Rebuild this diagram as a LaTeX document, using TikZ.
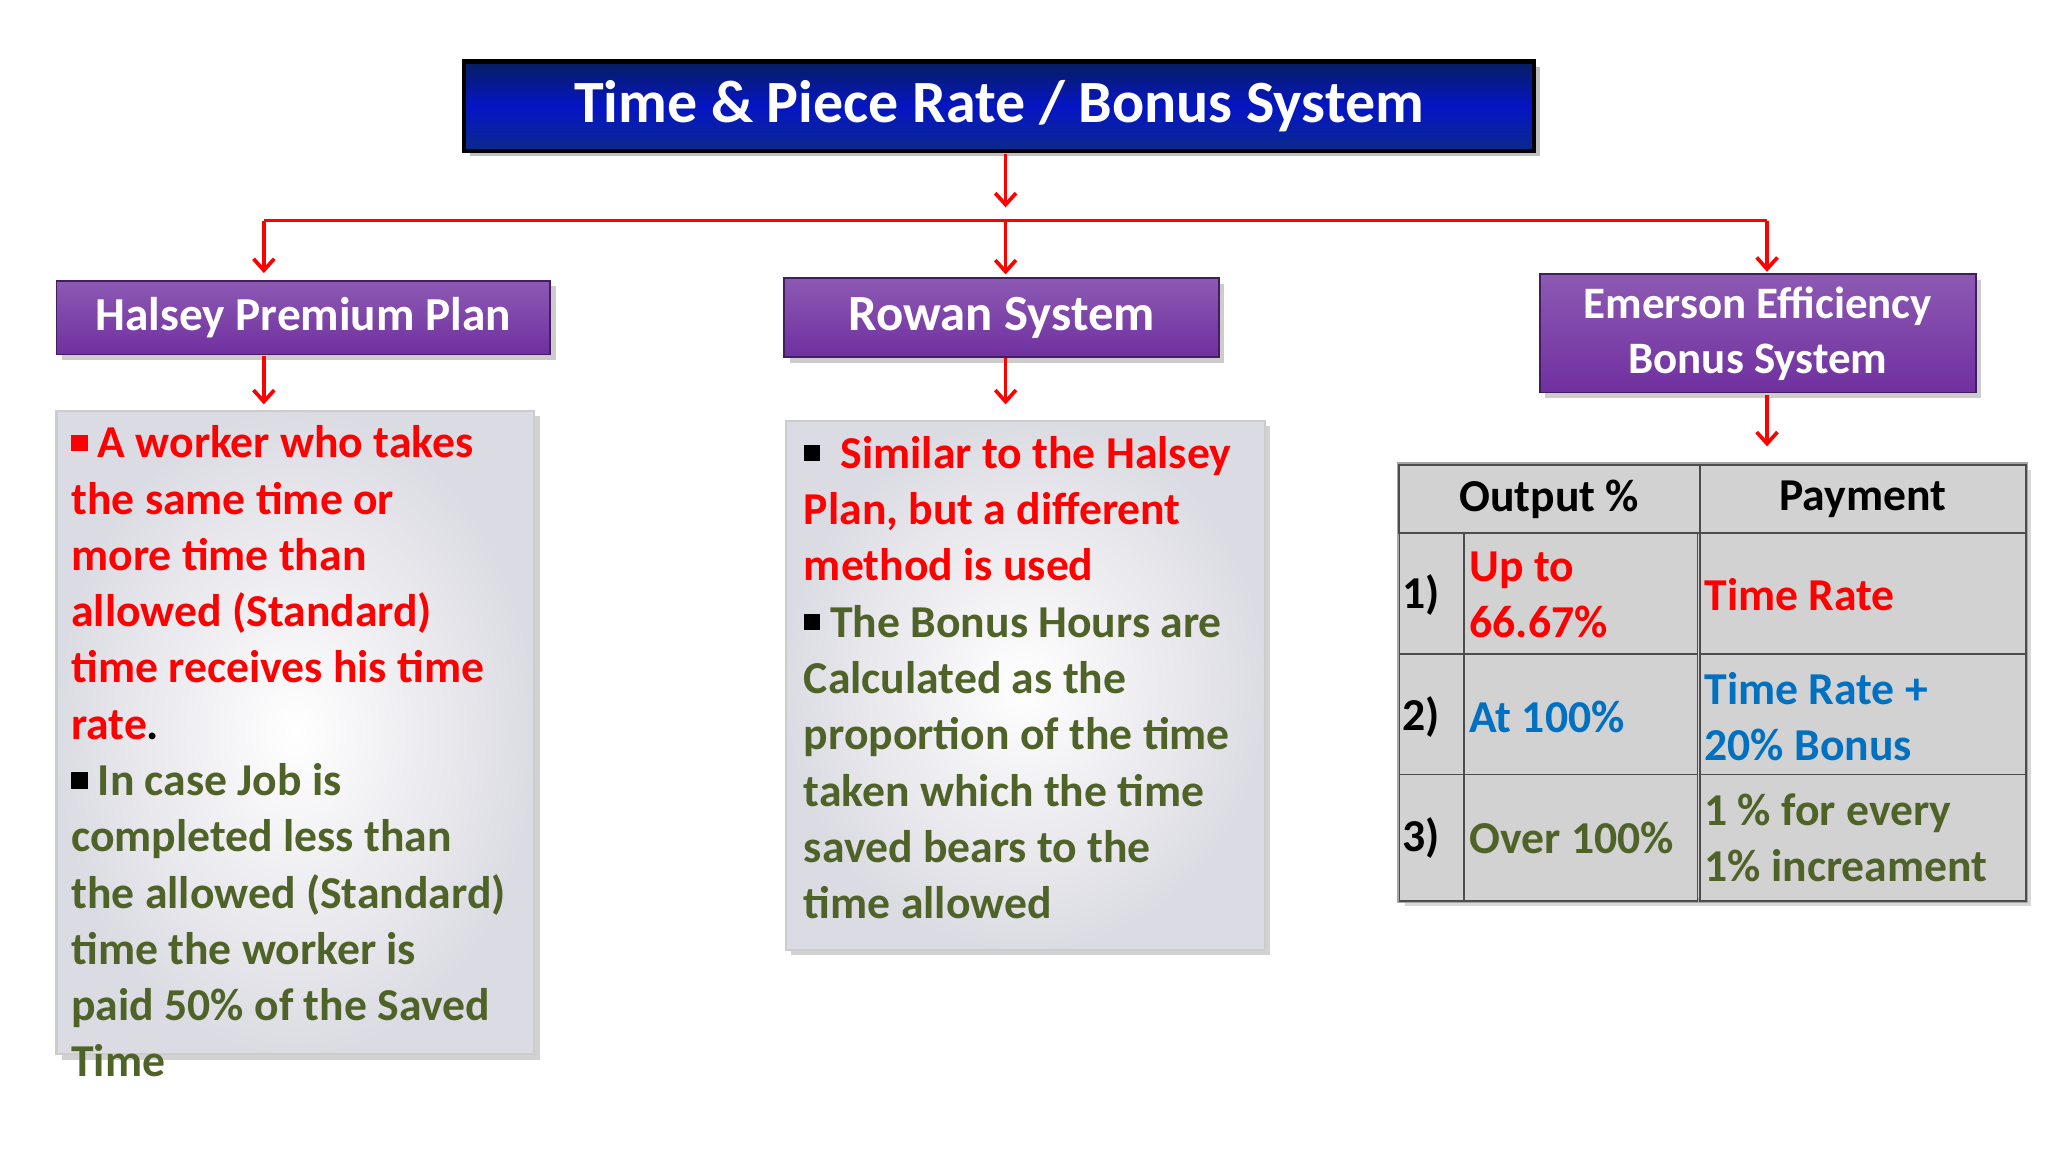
\documentclass[tikz,border=0pt]{standalone}
\usepackage{fontspec}
\setmainfont{Carlito}
\usetikzlibrary{shadows,arrows.meta}
\definecolor{dg}{HTML}{4F6228}
\definecolor{bl}{HTML}{0070C0}
\definecolor{navy}{HTML}{0A2A8A}
\definecolor{purp}{HTML}{7030A0}
\begin{document}
\begin{tikzpicture}[x=0.02cm,y=-0.02cm,
  arr/.style={red,line width=1.6pt,-{Straight Barb[length=5pt,width=9pt]}},
  head/.style={draw=purp!60!black,line width=0.8pt,top color=purp!80!white,bottom color=purp,drop shadow={opacity=0.4},text=white,font=\bfseries\fontsize{19.5}{22}\selectfont,align=center},
  txtbox/.style={draw=gray!40,line width=1pt,inner color=white,outer color=blue!12!gray!25,drop shadow={opacity=0.35}},
  body/.style={anchor=north west,align=left,inner sep=0pt,font=\bfseries\fontsize{19.8}{24.4}\selectfont},
  cell/.style={draw=gray!60!black,line width=0.8pt,fill=gray!35},
  ct/.style={font=\bfseries\fontsize{19.8}{24.4}\selectfont,align=left,inner sep=0pt}]
\useasboundingbox (0,0) rectangle (1560,877.5);
\fill[white] (0,0) rectangle (1560,877.5);
% title
\node[draw=black,line width=2pt,top color=navy!70!black,bottom color=navy,middle color=blue!50!navy,drop shadow={opacity=0.5},minimum width=815*0.02cm,minimum height=68*0.02cm,text=white,font=\bfseries\fontsize{26}{28}\selectfont] (title) at (761,81) {Time \& Piece Rate / Bonus System};
% heads
\node[head,minimum width=376*0.02cm,minimum height=56*0.02cm,font=\bfseries\fontsize{20.5}{22}\selectfont] (h1) at (231,242) {Halsey Premium Plan};
\node[head,minimum width=331*0.02cm,minimum height=60*0.02cm,font=\bfseries\fontsize{22}{24}\selectfont] (h2) at (763,242) {Rowan System};
\node[head,minimum width=332*0.02cm,minimum height=90*0.02cm] (h3) at (1339,254) {Emerson Efficiency\\[2pt]Bonus System};
% connectors
\coordinate (l) at (201,168);
\coordinate (r) at (1346,168);
\draw[arr] (766,117) -- (766,158);
\draw[red,line width=1.6pt] (l) -- (r);
\draw[arr] (l) -- (201,208);
\draw[arr] (766,168) -- (766,209);
\draw[arr] (r) -- (1346,207);
\draw[arr] (201,271) -- (201,308);
\draw[arr] (766,273) -- (766,308);
\draw[arr] (1346,301) -- (1346,340);
% halsey box
\node[txtbox,minimum width=364*0.02cm,minimum height=490*0.02cm] (b1) at (225,558) {};
\node[body] (t1) at (54,324) {\textcolor{red}{\rule[3pt]{7pt}{7pt}~A worker who takes}\\
\textcolor{red}{the same time or}\\ \textcolor{red}{more time than}\\ \textcolor{red}{allowed (Standard)}\\
\textcolor{red}{time receives his time}\\ \textcolor{red}{rate}.\\
\rule[3pt]{7pt}{7pt}~\textcolor{dg}{In case Job is}\\ \textcolor{dg}{completed less than}\\
\textcolor{dg}{the allowed (Standard)}\\ \textcolor{dg}{time the worker is}\\ \textcolor{dg}{paid 50\% of the Saved}\\ \textcolor{dg}{Time}};
% rowan box
\node[txtbox,minimum width=365*0.02cm,minimum height=403*0.02cm] (b2) at (781,522) {};
\node[body] (t2) at (612,332) {\rule[3pt]{7pt}{7pt}~~\textcolor{red}{Similar to the Halsey}\\
\textcolor{red}{Plan, but a different}\\ \textcolor{red}{method is used}\\
\rule[3pt]{7pt}{7pt}~\textcolor{dg}{The Bonus Hours are}\\ \textcolor{dg}{Calculated as the}\\
\textcolor{dg}{proportion of the time}\\ \textcolor{dg}{taken which the time}\\ \textcolor{dg}{saved bears to the}\\ \textcolor{dg}{time allowed}};
% table
\draw[gray!70,line width=2pt,drop shadow={opacity=0.3},fill=gray!30] (1066,354) rectangle (1543,686);
\node[cell,minimum width=229*0.02cm,minimum height=52*0.02cm] (c00) at (1180,380) {};
\node[cell,minimum width=248*0.02cm,minimum height=52*0.02cm] (c01) at (1419,380) {};
\foreach \ya/\yb/\n in {406/498/1,498/590/2,590/686/3}{
  \node[cell,minimum width=49*0.02cm,minimum height={(\yb-\ya)*0.02cm}] (n\n) at (1090.5,{(\ya+\yb)/2}) {};
  \node[cell,minimum width=178*0.02cm,minimum height={(\yb-\ya)*0.02cm}] (a\n) at (1204,{(\ya+\yb)/2}) {};
  \node[cell,minimum width=248*0.02cm,minimum height={(\yb-\ya)*0.02cm}] (p\n) at (1419,{(\ya+\yb)/2}) {};
}
\node[ct] at (c00) {Output \%};
\node[ct] at (c01) {Payment};
\node[ct,anchor=west] at (1068,453) {1)};
\node[ct,anchor=west] at (1068,546) {2)};
\node[ct,anchor=west] at (1068,638) {3)};
\node[ct,anchor=west,text=red] at (1119,453) {Up to\\66.67\%};
\node[ct,anchor=west,text=red] at (1298,453) {Time Rate};
\node[ct,anchor=west,text=bl] at (1119,546) {At 100\%};
\node[ct,anchor=west,text=bl] at (1298,546) {Time Rate +\\20\% Bonus};
\node[ct,anchor=west,text=dg] at (1119,638) {Over 100\%};
\node[ct,anchor=west,text=dg] at (1298,638) {1 \% for every\\1\% increament};
\end{tikzpicture}
\end{document}
